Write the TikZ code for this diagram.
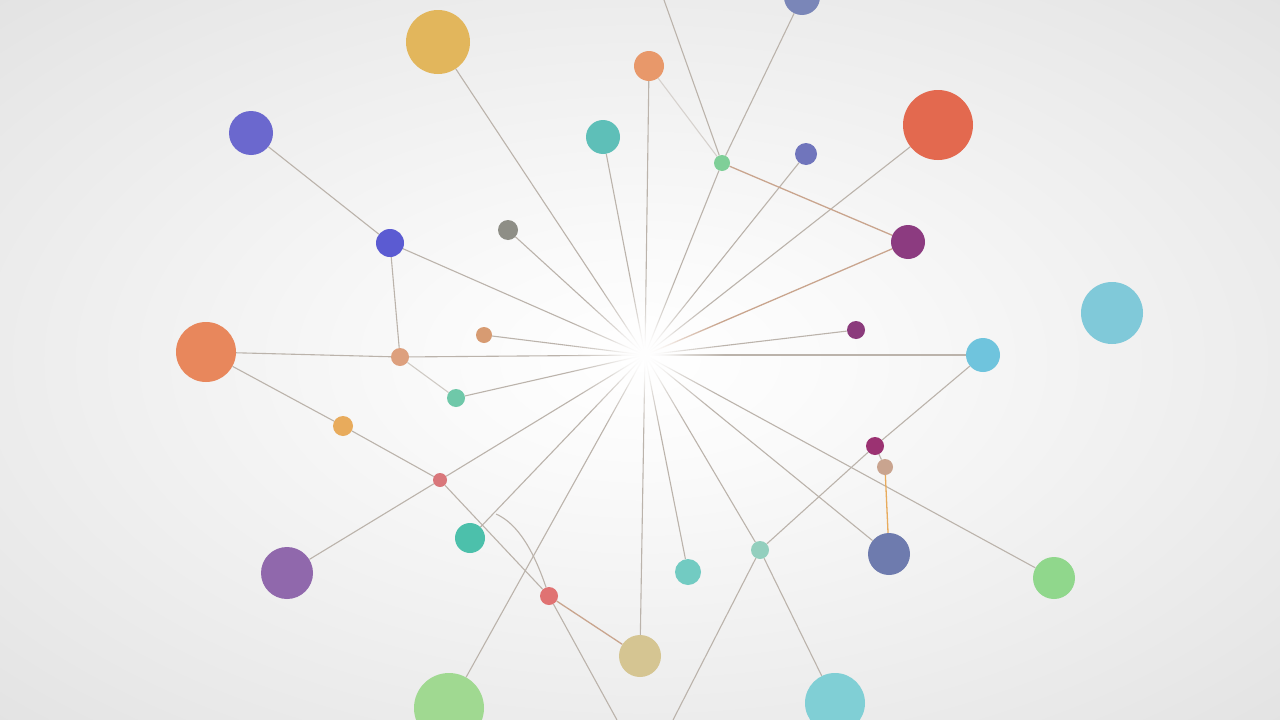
\documentclass[tikz,border=0pt]{standalone}
\usetikzlibrary{fadings}
\pgfdeclarelayer{back}
\pgfdeclarelayer{lines}
\pgfsetlayers{back,lines,main}
\tikzfading[name=glowfade, inner color=transparent!0, outer color=transparent!100]
\pgfdeclareradialshading{bgshade}{\pgfpoint{0bp}{0bp}}{color(0bp)=(white); color(8bp)=(white!98!black); color(30bp)=(white!91!black); color(50bp)=(white!84!black)}
\definecolor{cYel}{HTML}{E2B65C}
\definecolor{cOrT}{HTML}{E8986A}
\definecolor{cBlT}{HTML}{7A86B8}
\definecolor{cTeal}{HTML}{5EBFB8}
\definecolor{cGrS}{HTML}{7FCF98}
\definecolor{cBlS}{HTML}{7075BC}
\definecolor{cRed}{HTML}{E3694F}
\definecolor{cMag}{HTML}{8C3B80}
\definecolor{cVio}{HTML}{6B68CE}
\definecolor{cBlu}{HTML}{5B5BD2}
\definecolor{cGray}{HTML}{8E8E86}
\definecolor{cBrn}{HTML}{D79B72}
\definecolor{cOrL}{HTML}{E8875C}
\definecolor{cOrS}{HTML}{DDA07E}
\definecolor{cTlA}{HTML}{6FC8A9}
\definecolor{cOrB}{HTML}{E8AB5C}
\definecolor{cRdA}{HTML}{D9777B}
\definecolor{cPur}{HTML}{9068AC}
\definecolor{cTlB}{HTML}{4CC0AB}
\definecolor{cRdB}{HTML}{E07272}
\definecolor{cTan}{HTML}{D5C592}
\definecolor{cGrB}{HTML}{A0D991}
\definecolor{cTlC}{HTML}{72CBC2}
\definecolor{cTlD}{HTML}{93CFBE}
\definecolor{cCyB}{HTML}{80CFD5}
\definecolor{cBP}{HTML}{6E7BAE}
\definecolor{cMgB}{HTML}{9B3272}
\definecolor{cTnB}{HTML}{C9A48F}
\definecolor{cGrR}{HTML}{90D78C}
\definecolor{cCy}{HTML}{6FC4DD}
\definecolor{cMgC}{HTML}{8B3B7C}
\definecolor{cCyR}{HTML}{80C9D9}
\definecolor{cLine}{HTML}{BBB3AB}
\definecolor{cLineW}{HTML}{C9A58E}
\begin{document}
\begin{tikzpicture}[x=1pt,y=-1pt,
  dot/.style={circle, inner sep=0pt, minimum size=#1, draw=none},
  link/.style={draw=cLine, line width=1.1pt},
  warmlink/.style={draw=cLineW, line width=1.3pt}]
\useasboundingbox (0,0) rectangle (1280,720);
\begin{pgfonlayer}{back}
\shade[shading=bgshade] (0,0) rectangle (1280,720);
\end{pgfonlayer}
% nodes
\coordinate (C) at (645,355);
\node[dot=64pt, fill=cYel] (y1) at (438,42) {};
\node[dot=30pt, fill=cOrT] (o2) at (649,66) {};
\node[dot=36pt, fill=cBlT] (b3) at (802,-3) {};
\node[dot=34pt, fill=cTeal] (t5) at (603,137) {};
\node[dot=16pt, fill=cGrS] (g6) at (722,163) {};
\node[dot=22pt, fill=cBlS] (b7) at (806,154) {};
\node[dot=70pt, fill=cRed] (r8) at (938,125) {};
\node[dot=34pt, fill=cMag] (m9) at (908,242) {};
\node[dot=44pt, fill=cVio] (v10) at (251,133) {};
\node[dot=28pt, fill=cBlu] (b11) at (390,243) {};
\node[dot=20pt, fill=cGray] (gr12) at (508,230) {};
\node[dot=16pt, fill=cBrn] (o13) at (484,335) {};
\node[dot=60pt, fill=cOrL] (o14) at (206,352) {};
\node[dot=18pt, fill=cOrS] (o15) at (400,357) {};
\node[dot=18pt, fill=cTlA] (t16) at (456,398) {};
\node[dot=20pt, fill=cOrB] (o17) at (343,426) {};
\node[dot=14pt, fill=cRdA] (r18) at (440,480) {};
\node[dot=52pt, fill=cPur] (p19) at (287,573) {};
\node[dot=30pt, fill=cTlB] (t20) at (470,538) {};
\node[dot=18pt, fill=cRdB] (r21) at (549,596) {};
\node[dot=42pt, fill=cTan] (tn22) at (640,656) {};
\node[dot=70pt, fill=cGrB] (g23) at (449,708) {};
\node[dot=26pt, fill=cTlC] (t24) at (688,572) {};
\node[dot=18pt, fill=cTlD] (t25) at (760,550) {};
\node[dot=60pt, fill=cCyB] (c26) at (835,703) {};
\node[dot=42pt, fill=cBP] (bp27) at (889,554) {};
\node[dot=18pt, fill=cMgB] (m28) at (875,446) {};
\node[dot=16pt, fill=cTnB] (tn29) at (885,467) {};
\node[dot=42pt, fill=cGrR] (g30) at (1054,578) {};
\node[dot=34pt, fill=cCy] (c31) at (983,355) {};
\node[dot=18pt, fill=cMgC] (m32) at (856,330) {};
\node[dot=62pt, fill=cCyR] (c33) at (1112,313) {};
\coordinate (top1) at (664,0);
\coordinate (bot1) at (617,720);
\coordinate (bot2) at (673,720);
\coordinate (k1) at (496,514);
% connectors
\begin{pgfonlayer}{lines}
\foreach \n in {y1,o2,t5,g6,b7,r8,b11,gr12,o13,o15,t16,r18,t20,tn22,g23,t24,t25,bp27,g30,c31,m32}
  \draw[link] (C) -- (\n);
\draw[warmlink] (C) -- (m9);
\draw[link] (o15) -- (o14);
\draw[link] (v10) -- (b11);
\draw[link] (b11) -- (o15);
\draw[link, draw=cLine!70!white] (o15) -- (t16);
\draw[link] (o14) -- (o17);
\draw[link] (o17) -- (r18);
\draw[link] (r18) -- (p19);
\draw[link] (r18) -- (r21);
\draw[warmlink] (r21) -- (tn22);
\draw[link] (k1) .. controls (514,522) and (531,543) .. (r21);
\draw[link] (r21) -- (bot1);
\draw[link] (top1) -- (g6);
\draw[link] (b3) -- (g6);
\draw[link, draw=cLine!60!white] (o2) -- (g6);
\draw[warmlink] (g6) -- (m9);
\draw[link] (c31) -- (m28);
\draw[link] (m28) -- (t25);
\draw[link] (t25) -- (bot2);
\draw[link] (t25) -- (c26);
\draw[link] (m28) -- (tn29);
\draw[warmlink, draw=cOrB] (tn29) -- (bp27);
\end{pgfonlayer}
% center glow
\fill[white, path fading=glowfade] (C) circle (80pt);
\fill[white, path fading=glowfade] (C) circle (40pt);
\end{tikzpicture}
\end{document}
